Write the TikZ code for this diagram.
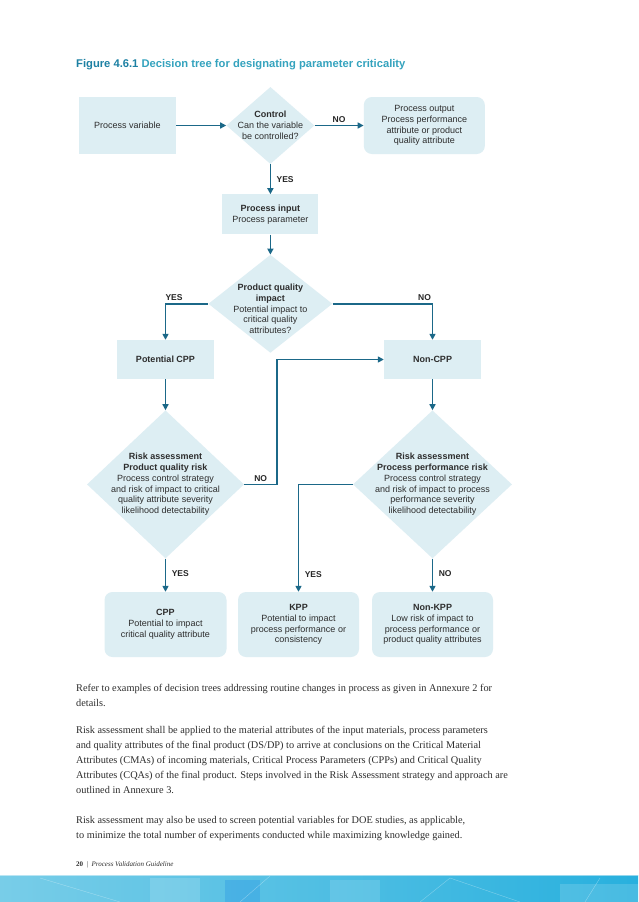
\documentclass[tikz,border=0pt]{standalone}
\usepackage{fontspec}
\setmainfont{Liberation Serif}
\newfontfamily\diagfont{Liberation Sans}
\usetikzlibrary{shapes.geometric, positioning, arrows.meta, calc}
\definecolor{boxFill}{RGB}{221,238,243}
\definecolor{lineColor}{RGB}{27,104,136}
\definecolor{textColor}{RGB}{45,45,45}
\definecolor{figBlue}{RGB}{28,128,163}
\definecolor{titleBlue}{RGB}{52,163,190}
\definecolor{bandLeft}{RGB}{120,205,232}
\definecolor{bandRight}{RGB}{40,176,222}
\tikzset{
  rect/.style={rectangle, fill=boxFill, text=textColor, align=center,
    font=\diagfont\fontsize{9}{10.8}\selectfont, inner sep=0pt},
  rrect/.style={rect, rounded corners=8pt},
  decision/.style={diamond, fill=boxFill, inner sep=0pt},
  dtext/.style={text=textColor, align=center, inner sep=0pt,
    font=\diagfont\fontsize{9}{10.8}\selectfont},
  lbl/.style={font=\diagfont\bfseries\fontsize{8.5}{10}\selectfont, text=black!85, inner sep=2.5pt},
  arrow/.style={-{Triangle[length=6pt,width=6pt]}, line width=1.5pt, draw=lineColor},
  body/.style={anchor=north west, align=left, inner sep=0pt, text=textColor,
    font=\fontsize{10.3}{15}\selectfont}
}
\begin{document}
\begin{tikzpicture}[x=1pt, y=1pt]
  \useasboundingbox (0,0) rectangle (638,-902);
  \fill[white] (0,0) rectangle (638,-902);
  % title
  \node (title) [anchor=base west, inner sep=0pt, font=\diagfont\bfseries\fontsize{11.2}{13}\selectfont]
    at (76,-67) {\textcolor{figBlue}{Figure 4.6.1} \textcolor{titleBlue}{Decision tree for designating parameter criticality}};
  % first row
  \node (pvar) [rect, minimum width=97pt, minimum height=57pt] at (127.5,-125.5) {Process variable};
  \node (ctl) [decision, minimum width=88pt, minimum height=77pt, right=50pt of pvar] {};
  \node (ctltext) [dtext] at (ctl) {\textbf{Control}\\Can the variable\\be controlled?};
  \node (pout) [rrect, minimum width=121pt, minimum height=57pt, right=49pt of ctl]
    {Process output\\Process performance\\attribute or product\\quality attribute};
  \draw [arrow] (pvar) -- (ctl);
  \draw [arrow] (ctl) -- node[lbl, above] {NO} (pout);
  % process input
  \node (pin) [rect, minimum width=96pt, minimum height=40pt, below=30pt of ctl]
    {\textbf{Process input}\\Process parameter};
  \draw [arrow] (ctl) -- node[lbl, right=3pt] {YES} (pin);
  \node (pqi) [decision, minimum width=124pt, minimum height=98pt, below=20pt of pin] {};
  \node (pqitext) [dtext, yshift=-5pt] at (pqi)
    {\textbf{Product quality}\\\textbf{impact}\\Potential impact to\\critical quality\\attributes?};
  \draw [arrow] (pin) -- (pqi);
  % second row
  \node (pcpp) [rect, minimum width=97pt, minimum height=39pt] at (165.5,-359.5) {\textbf{Potential CPP}};
  \node (ncpp) [rect, minimum width=97pt, minimum height=39pt] at (432.5,-359.5) {\textbf{Non-CPP}};
  \draw [arrow] (pqi.west) -| node[lbl, above, pos=0.4] {YES} (pcpp.north);
  \draw [arrow] (pqi.east) -| node[lbl, above, pos=0.46] {NO} (ncpp.north);
  % risk assessments
  \node (rqa) [decision, minimum width=157pt, minimum height=148pt, below=31pt of pcpp] {};
  \node (rqatext) [dtext] at (rqa) {\textbf{Risk assessment}\\\textbf{Product quality risk}\\Process control strategy\\and risk of impact to critical\\quality attribute severity\\likelihood detectability};
  \node (rpa) [decision, minimum width=159pt, minimum height=148pt, below=31pt of ncpp] {};
  \node (rpatext) [dtext] at (rpa) {\textbf{Risk assessment}\\\textbf{Process performance risk}\\Process control strategy\\and risk of impact to process\\performance severity\\likelihood detectability};
  \draw [arrow] (pcpp) -- (rqa);
  \draw [arrow] (ncpp) -- (rpa);
  \draw [arrow] (rqa.east) -- node[lbl, above] {NO} ++(33,0) |- (ncpp.west);
  % outcomes
  \node (cpp) [rrect, minimum width=122pt, minimum height=65pt] at (165.5,-624.5)
    {\textbf{CPP}\\Potential to impact\\critical quality attribute};
  \node (kpp) [rrect, minimum width=121pt, minimum height=65pt] at (298.5,-624.5)
    {\textbf{KPP}\\Potential to impact\\process performance or\\consistency};
  \node (nkpp) [rrect, minimum width=121pt, minimum height=65pt] at (432.5,-624.5)
    {\textbf{Non-KPP}\\Low risk of impact to\\process performance or\\product quality attributes};
  \draw [arrow] (rqa.south) -- node[lbl, right=3pt, pos=0.45] {YES} (cpp.north);
  \draw [arrow] (rpa.west) -| node[lbl, right=3pt, pos=0.92] {YES} (kpp.north);
  \draw [arrow] (rpa.south) -- node[lbl, right=3pt, pos=0.45] {NO} (nkpp.north);
  % body text
  \node (para1) [body] at (76,-684.5) {Refer to examples of decision trees addressing routine changes in process as given in Annexure 2 for\\details.};
  \node (para2) [body] at (76,-726.5) {Risk assessment shall be applied to the material attributes of the input materials, process parameters\\and quality attributes of the final product (DS/DP) to arrive at conclusions on the Critical Material\\Attributes (CMAs) of incoming materials, Critical Process Parameters (CPPs) and Critical Quality\\Attributes (CQAs) of the final product. Steps involved in the Risk Assessment strategy and approach are\\outlined in Annexure 3.};
  \node (para3) [body] at (76,-816.5) {Risk assessment may also be used to screen potential variables for DOE studies, as applicable,\\to minimize the total number of experiments conducted while maximizing knowledge gained.};
  % footer
  \node (footer) [anchor=base west, inner sep=0pt, text=textColor, font=\fontsize{7}{8}\selectfont]
    at (76,-866) {\textbf{20}\enspace|\enspace\textit{Process Validation Guideline}};
  \shade [left color=bandLeft, right color=bandRight] (0,-875) rectangle (638,-902);
  \draw [white, opacity=0.5, line width=0.8pt] (0,-875) -- (638,-875);
  \fill [white, opacity=0.15] (150,-878) rectangle (200,-902);
  \fill [white, opacity=0.12] (330,-880) rectangle (380,-902);
  \fill [white, opacity=0.15] (560,-884) rectangle (638,-902);
  \fill [bandRight!80!blue, opacity=0.3] (225,-880) rectangle (260,-902);
  \draw [white, opacity=0.35, line width=0.4pt] (40,-878) -- (120,-902) (240,-902) -- (270,-876)
    (420,-902) -- (450,-878) -- (520,-902) (600,-878) -- (585,-902);
\end{tikzpicture}
\end{document}
